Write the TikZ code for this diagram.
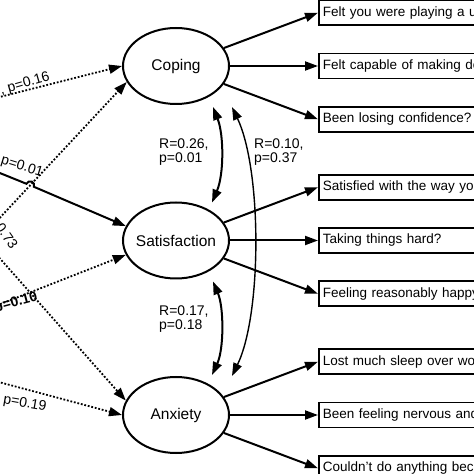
\documentclass[tikz,border=0pt]{standalone}
\usepackage{fontspec}
\setmainfont{Liberation Sans}
\usetikzlibrary{arrows.meta,positioning,shapes.geometric}

\begin{document}
\begin{tikzpicture}[x=1pt, y=1pt, >={Triangle[length=13pt,width=9pt]}]
\tikzset{
  factor/.style = {ellipse, draw, line width=2pt, inner xsep=-8pt, inner ysep=0pt, minimum width=106pt, minimum height=76pt, font=\fontsize{15.5}{18}\selectfont},
  item/.style = {rectangle, draw, line width=1.8pt, text width=240pt, inner xsep=4pt, minimum height=25pt, align=left, font=\fontsize{13.5}{16}\selectfont},
  load/.style = {->, line width=2pt},
  nsig/.style = {->, line width=1.8pt, dash pattern=on 1.8pt off 1.8pt},
  corr/.style = {<->, line width=2pt},
  stat/.style = {inner sep=0pt, font=\fontsize{14}{14}\selectfont}
}
\useasboundingbox (0,0) rectangle (474,474);
\clip (0,0) rectangle (474,474);

% Factors
\node[factor] (cop) at (176,408) {Coping};
\node[factor, below=96.5pt of cop] (sat) {Satisfaction};
\node[factor, below=96.5pt of sat] (anx) {Anxiety};

% Items
\node[item, right=88pt of cop] (c2) {Felt capable of making decisions};
\node[item, above=26.5pt of c2] (c1) {Felt you were playing a useful};
\node[item, below=26.5pt of c2] (c3) {Been losing confidence?};
\node[item, right=88pt of sat] (s2) {Taking things hard?};
\node[item, above=26.5pt of s2] (s1) {Satisfied with the way you};
\node[item, below=26.5pt of s2] (s3) {Feeling reasonably happy};
\node[item, right=88pt of anx] (a2) {Been feeling nervous and};
\node[item, above=26.5pt of a2] (a1) {Lost much sleep over worry};
\node[item, below=26.5pt of a2] (a3) {Couldn't do anything because};

% Loadings
\foreach \f/\i in {cop/c1, cop/c2, cop/c3, sat/s1, sat/s2, sat/s3, anx/a1, anx/a2, anx/a3}
  \draw[load] (\f) -- (\i.west);

% Paths coming in from the left
\coordinate (in1) at (-20,372);
\coordinate (in2) at (-20,235);
\coordinate (in3) at (-20,309);
\coordinate (in4) at (-20,162);
\coordinate (in5) at (-20,238);
\coordinate (in6) at (-20,97);
\coordinate (hop) at (30.2,288.7);

\draw[nsig] (in1) -- (cop.west);
\draw[nsig] (in2) -- (cop.198);
\draw[load] (in3) -- ([shift={(157.9:4)}]hop) arc[start angle=157.9, end angle=-22.1, radius=4] -- (sat.164);
\draw[nsig] (in4) -- (sat.196);
\draw[nsig] (in5) -- (anx.164);
\draw[nsig] (in6) -- (anx.west);

\node[stat, rotate=16] at (25,390) {, p=0.16};
\node[stat, rotate=-17] at (22,307) {p=0.01};
\node[stat, rotate=-55] at (7,238) {0.73};
\node[stat, rotate=15, font=\fontsize{14}{14}\selectfont\bfseries] at (16,171) {p=0.10};
\node[stat, rotate=-10] at (21,71) {, p=0.19};

% Correlations
\draw[corr] ([shift={(37,-41)}]cop.center) .. controls +(11,-28) and +(12,28) .. ([shift={(36,38)}]sat.center);
\draw[corr] ([shift={(37,-41)}]sat.center) .. controls +(11,-26) and +(12,26) .. ([shift={(36,40)}]anx.center);
\draw[corr, line width=1.4pt] ([shift={(56,-41)}]cop.center) .. controls +(30,-63) and +(30,62) .. ([shift={(56,39)}]anx.center);

\node[stat, align=left, anchor=north west] at (159,335) {R=0.26,\\p=0.01};
\node[stat, align=left, anchor=north west] at (254,335) {R=0.10,\\p=0.37};
\node[stat, align=left, anchor=north west] at (159,168.5) {R=0.17,\\p=0.18};

\end{tikzpicture}
\end{document}
